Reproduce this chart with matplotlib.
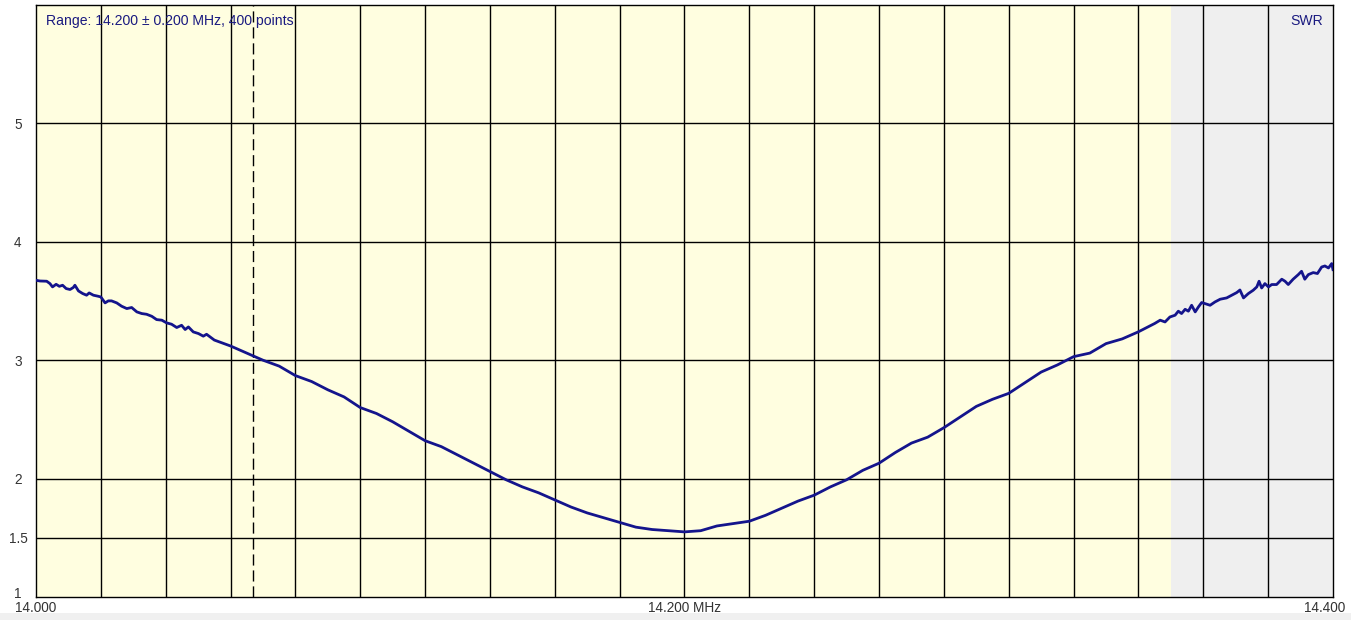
import matplotlib
matplotlib.use("Agg")
import matplotlib.pyplot as plt
import matplotlib.transforms as mtransforms
from matplotlib.patches import Rectangle

# SWR sweep (MHz, SWR)
# low end, read densely to keep the visible jitter
freq_low = [
    14.0000, 14.0012, 14.0033, 14.0043, 14.0051, 14.0062, 14.0072, 14.0082,
    14.0093, 14.0105, 14.0115, 14.0120, 14.0131, 14.0144, 14.0156, 14.0164,
    14.0177, 14.0192, 14.0200, 14.0213, 14.0223, 14.0233, 14.0249, 14.0264,
    14.0280, 14.0295, 14.0311, 14.0326, 14.0341, 14.0357, 14.0372, 14.0388,
    14.0403, 14.0418, 14.0434, 14.0449, 14.0460, 14.0470, 14.0485, 14.0501,
    14.0516, 14.0526, 14.0537,
]
swr_low = [
    3.675, 3.669, 3.667, 3.647, 3.619, 3.641, 3.624, 3.633,
    3.605, 3.597, 3.614, 3.633, 3.585, 3.563, 3.549, 3.568,
    3.549, 3.540, 3.534, 3.484, 3.501, 3.501, 3.484, 3.456,
    3.436, 3.445, 3.408, 3.394, 3.388, 3.371, 3.343, 3.338,
    3.315, 3.304, 3.276, 3.295, 3.259, 3.281, 3.239, 3.225,
    3.203, 3.219, 3.197,
]

# middle of the band, every 5 kHz
freq_mid = [
    14.055, 14.060, 14.065, 14.070, 14.075, 14.080, 14.085, 14.090, 14.095, 14.100,
    14.105, 14.110, 14.115, 14.120, 14.125, 14.130, 14.135, 14.140, 14.145, 14.150,
    14.155, 14.160, 14.165, 14.170, 14.175, 14.180, 14.185, 14.190, 14.195, 14.200,
    14.205, 14.210, 14.215, 14.220, 14.225, 14.230, 14.235, 14.240, 14.245, 14.250,
    14.255, 14.260, 14.265, 14.270, 14.275, 14.280, 14.285, 14.290, 14.295, 14.300,
    14.305, 14.310, 14.315, 14.320, 14.325, 14.330, 14.335, 14.340, 14.345,
]
swr_mid = [
    3.17, 3.12, 3.06, 3.00, 2.95, 2.87, 2.82, 2.75, 2.69, 2.60,
    2.55, 2.48, 2.40, 2.32, 2.27, 2.20, 2.13, 2.06, 1.99, 1.93,
    1.88, 1.82, 1.76, 1.71, 1.67, 1.63, 1.59, 1.57, 1.56, 1.55,
    1.56, 1.60, 1.62, 1.64, 1.69, 1.75, 1.81, 1.86, 1.93, 1.99,
    2.07, 2.13, 2.22, 2.30, 2.35, 2.43, 2.52, 2.61, 2.67, 2.72,
    2.81, 2.90, 2.96, 3.03, 3.06, 3.14, 3.18, 3.24, 3.31,
]

# high end, read densely
freq_high = [
    14.3467, 14.3482, 14.3497, 14.3513, 14.3523, 14.3533, 14.3544, 14.3554,
    14.3564, 14.3575, 14.3585, 14.3595, 14.3605, 14.3621, 14.3636, 14.3652,
    14.3672, 14.3688, 14.3703, 14.3713, 14.3724, 14.3739, 14.3754, 14.3765,
    14.3772, 14.3780, 14.3790, 14.3801, 14.3811, 14.3826, 14.3842, 14.3852,
    14.3862, 14.3877, 14.3893, 14.3903, 14.3913, 14.3924, 14.3939, 14.3952,
    14.3965, 14.3975, 14.3986, 14.3996, 14.4000,
]
swr_high = [
    3.338, 3.323, 3.365, 3.380, 3.414, 3.394, 3.430, 3.414,
    3.464, 3.408, 3.450, 3.487, 3.478, 3.464, 3.492, 3.515,
    3.526, 3.549, 3.571, 3.593, 3.526, 3.563, 3.591, 3.619,
    3.667, 3.610, 3.647, 3.619, 3.639, 3.639, 3.684, 3.667,
    3.639, 3.684, 3.723, 3.751, 3.684, 3.723, 3.740, 3.732,
    3.787, 3.796, 3.779, 3.816, 3.765,
]

freq_mhz = freq_low + freq_mid + freq_high
swr = swr_low + swr_mid + swr_high

x_ticks = [14.0, 14.2, 14.4]
x_ticklabels = ["14.000", "14.200 MHz", "14.400"]
y_ticks = [1, 1.5, 2, 3, 4, 5]
y_ticklabels = ["1", "1.5", "2", "3", "4", "5"]
v_grid = [14.02, 14.04, 14.06, 14.08, 14.10, 14.12, 14.14, 14.16, 14.18, 14.20,
          14.22, 14.24, 14.26, 14.28, 14.30, 14.32, 14.34, 14.36, 14.38]
marker_freq = 14.067
band_end = 14.35

plt.rcParams["font.family"] = ["Liberation Sans", "DejaVu Sans"]

fig = plt.figure(figsize=(13.51, 6.20), dpi=100)
fig.patches.append(Rectangle((0, 0), 1, 7 / 620, transform=fig.transFigure,
                             facecolor="#f0f0f0", edgecolor="none"))
ax = fig.add_axes([36 / 1351, 23 / 620, 1297 / 1351, 592 / 620])
ax.set_facecolor("#fffee0")
ax.set_xlim(14.0, 14.4)
ax.set_ylim(1, 6)

ax.axvspan(band_end, 14.4, facecolor="#efefef", edgecolor="none", zorder=0)
for v in v_grid:
    ax.axvline(v, color="black", lw=1.0, zorder=1)
for h in y_ticks[1:]:
    ax.axhline(h, color="black", lw=1.0, zorder=1)
ax.axvline(marker_freq, color="black", lw=1.0, dashes=(8, 3.5), zorder=1)

ax.plot(freq_mhz, swr, color="#14148c", lw=2.0, zorder=3)

for s in ax.spines.values():
    s.set_linewidth(1.0)
    s.set_color("black")

ax.set_xticks(x_ticks)
ax.set_xticklabels(x_ticklabels)
ax.set_yticks(y_ticks)
ax.set_yticklabels(y_ticklabels)
ax.tick_params(length=0, labelsize=9.8, colors="#333333")
ax.tick_params(axis="x", pad=3)
ax.tick_params(axis="y", pad=13)
for lbl in ax.get_yticklabels():
    lbl.set_horizontalalignment("center")

# nudge edge labels the way the instrument software draws them
last_x = ax.get_xticklabels()[-1]
last_x.set_transform(last_x.get_transform()
                     + mtransforms.ScaledTranslation(-8 / 100, 0, fig.dpi_scale_trans))
first_y = ax.get_yticklabels()[0]
first_y.set_transform(first_y.get_transform()
                      + mtransforms.ScaledTranslation(0, 5 / 100, fig.dpi_scale_trans))

ax.text(0.008, 0.985, "Range: 14.200 \u00b1 0.200 MHz, 400 points", transform=ax.transAxes,
        ha="left", va="top", fontsize=10.1, color="#1a1a80", zorder=4)
ax.text(0.992, 0.985, "SWR", transform=ax.transAxes,
        ha="right", va="top", fontsize=10.1, color="#1a1a80", zorder=4)

fig.savefig("out.png", dpi=100)
plt.close(fig)
